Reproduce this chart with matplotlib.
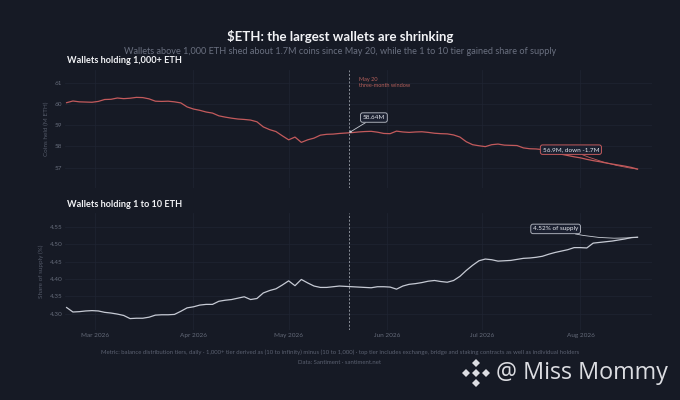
import matplotlib
matplotlib.use("Agg")
import matplotlib.pyplot as plt
import matplotlib.dates as mdates
from matplotlib.lines import Line2D
import pandas as pd

# sampled every second day, 20 Feb 2026 -> 19 Aug 2026
DATES = pd.date_range("2026-02-20", periods=91, freq="2D")
WINDOW_START = pd.Timestamp("2026-05-20")

TOP_TIER_M = [
    60.06, 60.14, 60.10, 60.09, 60.08, 60.12, 60.21, 60.22, 60.28, 60.25,
    60.27, 60.31, 60.30, 60.24, 60.13, 60.12, 60.13, 60.10, 60.05, 59.86,
    59.76, 59.70, 59.62, 59.57, 59.44, 59.38, 59.33, 59.29, 59.27, 59.24,
    59.16, 58.92, 58.79, 58.70, 58.50, 58.31, 58.44, 58.19, 58.31, 58.39,
    58.53, 58.57, 58.58, 58.61, 58.63, 58.65, 58.68, 58.70, 58.71, 58.67,
    58.61, 58.60, 58.72, 58.68, 58.66, 58.68, 58.69, 58.66, 58.62, 58.60,
    58.59, 58.54, 58.44, 58.22, 58.08, 58.03, 57.99, 58.08, 58.11, 58.06,
    58.05, 58.04, 57.93, 57.89, 57.88, 57.85, 57.76, 57.69, 57.63, 57.57,
    57.51, 57.46, 57.39, 57.33, 57.28, 57.22, 57.17, 57.12, 57.07, 57.01,
    56.93,
]
SMALL_TIER_PCT = [
    4.318, 4.305, 4.306, 4.308, 4.309, 4.308, 4.304, 4.302, 4.299, 4.295,
    4.286, 4.287, 4.287, 4.290, 4.296, 4.297, 4.297, 4.298, 4.307, 4.317,
    4.320, 4.325, 4.327, 4.327, 4.336, 4.339, 4.341, 4.345, 4.349, 4.341,
    4.344, 4.360, 4.367, 4.372, 4.383, 4.395, 4.381, 4.399, 4.389, 4.380,
    4.376, 4.376, 4.378, 4.380, 4.379, 4.378, 4.377, 4.376, 4.375, 4.378,
    4.378, 4.377, 4.371, 4.380, 4.385, 4.387, 4.390, 4.394, 4.396, 4.393,
    4.391, 4.396, 4.408, 4.425, 4.440, 4.453, 4.458, 4.456, 4.452, 4.453,
    4.454, 4.457, 4.460, 4.461, 4.463, 4.466, 4.472, 4.477, 4.481, 4.485,
    4.491, 4.491, 4.490, 4.504, 4.506, 4.508, 4.510, 4.513, 4.516, 4.520,
    4.521,
]
TOP_TICKS = [57, 58, 59, 60, 61]
SMALL_TICKS = [4.30, 4.35, 4.40, 4.45, 4.50, 4.55]

BG = "#161a25"
GRID = "#202533"
TICK = "#656b7a"
RED = "#c35a5c"
SILVER = "#c6cad4"
FONT = ["Lato", "DejaVu Sans"]

plt.rcParams["font.family"] = FONT


def style_axis(ax, ticks, fmt):
    ax.set_facecolor(BG)
    for spine in ax.spines.values():
        spine.set_visible(False)
    ax.set_yticks(ticks, [fmt.format(t) for t in ticks])
    ax.xaxis.set_major_locator(mdates.MonthLocator())
    ax.xaxis.set_major_formatter(mdates.DateFormatter("%b %Y"))
    ax.tick_params(length=0, labelsize=4.6, colors=TICK, pad=2)
    ax.grid(color=GRID, linewidth=0.5)
    ax.set_xlim(DATES[0] - pd.Timedelta(days=0.5), DATES[0] + pd.Timedelta(days=184.5))
    ax.axvline(WINDOW_START, color="#9a9fa8", linewidth=0.6, linestyle=(0, (2.5, 2)))


fig = plt.figure(figsize=(6.8, 4.0), dpi=100, facecolor=BG)
top = fig.add_axes([0.0956, 0.53, 0.863, 0.295])
low = fig.add_axes([0.0956, 0.175, 0.863, 0.2925])

style_axis(top, TOP_TICKS, "{:.0f}")
top.set_ylim(56.04, 61.6)
top.tick_params(axis="x", labelbottom=False)
top.plot(DATES, TOP_TIER_M, color=RED, linewidth=0.9)
top.set_ylabel("Coins held (M ETH)", fontsize=4.6, color="#535968", labelpad=4)

style_axis(low, SMALL_TICKS, "{:.2f}")
low.set_ylim(4.253, 4.591)
low.plot(DATES, SMALL_TIER_PCT, color=SILVER, linewidth=0.9)
low.set_ylabel("Share of supply (%)", fontsize=4.6, color="#535968", labelpad=4)

top.annotate("May 20\nthree-month window", xy=(WINDOW_START, 0.94), xycoords=("data", "axes fraction"),
             xytext=(7, 0), textcoords="offset points", ha="left", va="top",
             fontsize=4.0, color="#b8615c", linespacing=1.3)

box = dict(boxstyle="round,pad=0.35", facecolor="#1b2030", linewidth=0.7)
top.annotate("58.64M", xy=(WINDOW_START, 58.64), xytext=(18, 11), textcoords="offset points",
             ha="center", va="center", fontsize=4.6, color="#e6e8ee",
             bbox={**box, "edgecolor": "#a8acb6"},
             arrowprops=dict(arrowstyle="-|>,head_length=0.25,head_width=0.12", color="#c8ccd4", lw=0.6,
                             shrinkA=0, shrinkB=0))
top.annotate("56.9M, down -1.7M", xy=(DATES[-1], TOP_TIER_M[-1]), xytext=(-48, 14), textcoords="offset points",
             ha="center", va="center", fontsize=4.6, color="#e6e8ee",
             bbox={**box, "edgecolor": RED},
             arrowprops=dict(arrowstyle="-", color=RED, lw=0.6, shrinkA=0, shrinkB=0,
                             connectionstyle="arc3,rad=0.08"))
low.annotate("4.52% of supply", xy=(DATES[-1], SMALL_TIER_PCT[-1]), xytext=(-59, 6), textcoords="offset points",
             ha="center", va="center", fontsize=4.6, color="#e6e8ee",
             bbox={**box, "edgecolor": "#a8acb6"},
             arrowprops=dict(arrowstyle="-", color="#c8ccd4", lw=0.6, shrinkA=0, shrinkB=0,
                             connectionstyle="arc3,rad=0.1"))

fig.text(0.5, 1 - 36.7 / 400, "\\$ETH: the largest wallets are shrinking", ha="center", va="center",
         fontsize=9.5, fontweight="bold", color="#f2f3f6")
fig.text(0.5, 1 - 51.7 / 400,
         "Wallets above 1,000 ETH shed about 1.7M coins since May 20, while the 1 to 10 tier gained share of supply",
         ha="center", va="center", fontsize=6.6, color="#6a7080")
fig.text(67 / 680, 1 - 60.5 / 400, "Wallets holding 1,000+ ETH", ha="left", va="center",
         fontsize=6.6, fontweight="bold", color="#f2f3f6")
fig.text(67 / 680, 1 - 204.5 / 400, "Wallets holding 1 to 10 ETH", ha="left", va="center",
         fontsize=6.6, fontweight="bold", color="#f2f3f6")
fig.text(0.5, 1 - 352.3 / 400,
         "Metric: balance distribution tiers, daily · 1,000+ tier derived as (10 to infinity) minus (10 to 1,000) · "
         "top tier includes exchange, bridge and staking contracts as well as individual holders",
         ha="center", va="center", fontsize=4.3, color="#5a6070")
fig.text(0.5, 1 - 362.7 / 400, "Data: Santiment · santiment.net", ha="center", va="center",
         fontsize=4.3, color="#5a6070")

# watermark
fig.text(496 / 680, 1 - 373 / 400, "@ Miss Mommy", ha="left", va="center", fontsize=16.8,
         color="#dcdde2", family=["Open Sans", "DejaVu Sans"])
cx, cy = 476 / 680, 1 - 373 / 400
for dx, dy, size in [(0, 0, 4.5), (0, 0.024, 4.0), (0, -0.024, 4.0), (-0.014, 0, 4.0), (0.014, 0, 4.0)]:
    fig.add_artist(Line2D([cx + dx], [cy + dy], marker="D", markersize=size, color="#dcdde2",
                          markeredgewidth=0, transform=fig.transFigure))

fig.savefig("out.png", dpi=100, facecolor=BG)
